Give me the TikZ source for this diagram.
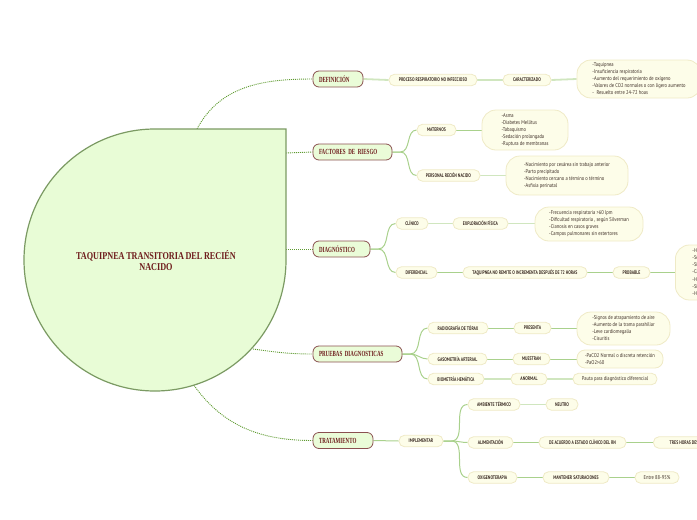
\documentclass[tikz,border=0pt]{standalone}
\usepackage{fontspec}
\usetikzlibrary{backgrounds}
\newfontfamily\subf[FakeStretch=0.74]{PT Sans}
\newfontfamily\listf[FakeStretch=0.83]{PT Sans}
\newfontfamily\headf[FakeStretch=0.64,WordSpace=0.6]{Liberation Serif}
\newfontfamily\rootf[FakeStretch=0.78,WordSpace=0.8]{Liberation Serif}
\definecolor{rootfill}{HTML}{E8FCD6}
\definecolor{rootdraw}{HTML}{7B9A63}
\definecolor{headtext}{HTML}{6E1C1C}
\definecolor{headdraw}{HTML}{8A5050}
\definecolor{headfill}{HTML}{EAFCD8}
\definecolor{subfill}{HTML}{FDFDE9}
\definecolor{subdraw}{HTML}{EFEAC6}
\definecolor{subtext}{HTML}{3E2F27}
\definecolor{linkc}{HTML}{A9D18C}
\definecolor{linkpale}{HTML}{D0E6BF}
\definecolor{dotc}{HTML}{5E9A30}
\begin{document}
\begin{tikzpicture}[x=1pt,y=1pt,
 headbox/.style={draw=headdraw, fill=headfill, line width=0.8pt, rounded corners=6pt, inner ysep=0pt, inner xsep=6pt, minimum height=16pt, align=left, text=headtext, font=\headf\bfseries\fontsize{7.8}{8}\selectfont},
 subbox/.style={draw=subdraw, fill=subfill, line width=0.8pt, rounded corners=5.5pt, inner sep=0pt, minimum height=11.5pt, text=subtext, font=\subf\bfseries\fontsize{5.2}{5.5}\selectfont},
 listbox/.style={draw=subdraw, fill=subfill, line width=0.8pt, rounded corners=14pt, inner sep=0pt, align=left, text=subtext, font=\listf\fontsize{5.5}{7}\selectfont},
 link/.style={draw=linkc, line width=1pt},
 linkw/.style={draw=linkpale, line width=1.8pt},
 dotlink/.style={draw=dotc, line width=0.9pt, dash pattern=on 1pt off 1pt},
]
\useasboundingbox (0,0) rectangle (697,-520);
\clip (0,0) rectangle (697,-520);

% central shape
\draw[fill=rootfill, draw=rootdraw, line width=1.2pt]
  (155,-129) -- (286,-129) -- (286,-260) arc[start angle=0, end angle=-270, radius=131] -- cycle;
\node[font=\rootf\bfseries\fontsize{10.5}{11}\selectfont, text=headtext, align=center] (root) at (156,-261) {TAQUIPNEA TRANSITORIA DEL RECIÉN\\NACIDO};
\coordinate (r1) at (197,-129);
\coordinate (r2) at (286,-153);
\coordinate (r3) at (286,-249);
\coordinate (r4) at (253,-349);
\coordinate (r5) at (193,-384);

% main nodes
\node[headbox, text width=38pt] (def) at (338,-79) {DEFINICIÓN};
\node[headbox, text width=67pt] (fac) at (352.5,-152) {FACTORES DE RIESGO};
\node[headbox, text width=45pt] (diag) at (341.5,-249) {DIAGNÓSTICO};
\node[headbox, text width=77pt] (prue) at (357.5,-354) {PRUEBAS DIAGNOSTICAS};
\node[headbox, text width=48pt] (trat) at (343,-440.5) {TRATAMIENTO};

% definicion
\node[subbox, minimum width=88pt] (proc) at (433,-80) {PROCESO RESPIRATORIO NO INFECCIOSO};
\node[subbox, minimum width=48pt] (car) at (527,-80) {CARACTERIZADO};
\node[listbox, minimum width=124pt, minimum height=38pt] (defbox) at (639,-79) {-Taquipnea\\-Insuficiencia respiratoria\\-Aumento del requerimiento de oxígeno\\-Valores de CO2 normales o con ligero aumento\\- \ Resuelto entre 24-72 hoas};

% factores
\node[subbox, minimum width=39pt] (mat) at (436.5,-130) {MATERNOS};
\node[listbox, minimum width=86pt, minimum height=40pt] (matbox) at (525,-130) {-Asma\\-Diabetes Mellitus\\-Tabaquismo\\-Sedación prolongada\\-Ruptura de membranas};
\node[subbox, minimum width=63pt] (pers) at (448.5,-175.5) {PERSONAL RECIÉN NACIDO};
\node[listbox, minimum width=122pt, minimum height=39pt] (persbox) at (567,-175.5) {-Nacimiento por cesárea sin trabajo anterior\\-Parto precipitado\\-Nacimiento cercano a término o término\\-Asfixia perinatal};

% diagnostico
\node[subbox, minimum width=32pt] (cli) at (412,-223.5) {CLÍNICO};
\node[subbox, minimum width=55pt] (expl) at (480.5,-223.5) {EXPLORACIÓN FÍSICA};
\node[listbox, minimum width=108pt, minimum height=34pt] (clibox) at (589,-224) {-Frecuencia respiratoria >60 lpm\\-Dificultad respiratoria , según Silverman\\-Cianosis en casos graves\\-Campos pulmonares sin estertores};
\node[subbox, minimum width=41pt] (dif) at (416.5,-272.5) {DIFERENCIAL};
\node[subbox, minimum width=124pt] (taq) at (525,-272.5) {TAQUIPNEA NO REMITE O INCREMENTA DESPUÉS DE 72 HORAS};
\node[subbox, minimum width=37pt] (prob) at (631.5,-272.5) {PROBABLE};
\node[listbox, anchor=west, inner xsep=17pt, text width=100pt, minimum height=55pt, font=\listf\fontsize{5.5}{7.3}\selectfont] (probbox) at (675,-272.5) {-Hernia diafragmática\\-Sepsis\\-Síndrome de aspiración de meconio\\-Cardiopatía congénita\\-Hipertensión pulmonar persistente\\-Síndrome de dificultad respiratoria\\-Hemorragia pulmonar};

% pruebas
\node[subbox, minimum width=60pt] (rad) at (458,-328) {RADIOGRAFÍA DE TÓRAX};
\node[subbox, minimum width=37pt] (pres) at (532.5,-328) {PRESENTA};
\node[listbox, minimum width=93pt, minimum height=33pt] (radbox) at (623.5,-328.5) {-Signos de atrapamiento de aire\\-Aumento de la trama parahiliar\\-Leve cardiomegalia\\-Cisuritis};
\node[subbox, minimum width=59pt] (gas) at (457.5,-359) {GASOMETRÍA ARTERIAL};
\node[subbox, minimum width=37pt] (mues) at (531.5,-359) {MUESTRAN};
\node[listbox, rounded corners=8pt, minimum width=86pt, minimum height=18pt] (gasbox) at (620,-359) {-PaCO2 Normal o discreta retención\\-PaO2>60};
\node[subbox, minimum width=56pt] (bio) at (456,-379) {BIOMETRÍA HEMÁTICA};
\node[subbox, minimum width=36pt] (anor) at (529,-379) {ANORMAL};
\node[subbox, minimum width=84pt, font=\listf\fontsize{5.5}{6}\selectfont] (pauta) at (615,-379) {Pauta para diagnóstico diferencial};

% tratamiento
\node[subbox, minimum width=44pt] (impl) at (421,-441) {IMPLEMENTAR};
\node[subbox, minimum width=52pt] (amb) at (494,-404.5) {AMBIENTE TÉRMICO};
\node[subbox, minimum width=32pt] (neu) at (562,-404.5) {NEUTRO};
\node[subbox, minimum width=45pt] (ali) at (490.5,-442.5) {ALIMENTACIÓN};
\node[subbox, minimum width=87pt] (deac) at (582.5,-442.5) {DE ACUERDO A ESTADO CLÍNICO DEL RN};
\node[subbox, anchor=west, minimum width=70pt] (tres) at (653,-442.5) {TRES HORAS DESPUÉS};
\node[subbox, minimum width=49pt] (oxi) at (492.5,-477.5) {OXIGENOTERAPIA};
\node[subbox, minimum width=66pt] (mant) at (576,-477.5) {MANTENER SATURACIONES};
\node[subbox, minimum width=44pt, font=\listf\fontsize{5.5}{6}\selectfont] (entre) at (657,-477.5) {Entre 88-95\%};

\begin{scope}[on background layer]
% dotted from root
\draw[dotlink] (r1) to[out=62,in=180] (def.west);
\draw[dotlink] (r2) -- (fac.west);
\draw[dotlink] (r3) -- (diag.west);
\draw[dotlink] (r4) to[out=-8,in=180] (prue.west);
\draw[dotlink] (r5) to[out=-55,in=180] (trat.west);
% definicion
\draw[linkw] (def.east) -- (proc.west);
\draw[linkw] (proc.east) -- (car.west);
\draw[linkw] (car.east) -- (defbox.west);
% factores
\draw[link] (fac.east) -- ++(8,0) to[out=0,in=180] (mat.west);
\draw[link] (fac.east) -- ++(8,0) to[out=0,in=180] (pers.west);
\draw[link] (mat.east) -- (mat.east -| matbox.west);
\draw[linkw] (pers.east) -- (pers.east -| persbox.west);
% diagnostico
\draw[link] (diag.east) -- ++(8,0) to[out=0,in=180] (cli.west);
\draw[link] (diag.east) -- ++(8,0) to[out=0,in=180] (dif.west);
\draw[linkw] (cli.east) -- (expl.west);
\draw[linkw] (expl.east) -- (expl.east -| clibox.west);
\draw[link] (dif.east) -- (taq.west);
\draw[link] (taq.east) -- (prob.west);
\draw[link] (prob.east) -- (probbox.west);
% pruebas
\draw[link] (prue.east) -- ++(8,0) to[out=0,in=180] (rad.west);
\draw[link] (prue.east) -- ++(8,0) to[out=0,in=180] (gas.west);
\draw[link] (prue.east) -- ++(8,0) to[out=0,in=180] (bio.west);
\draw[link] (rad.east) -- (pres.west);
\draw[link] (pres.east) -- (pres.east -| radbox.west);
\draw[link] (gas.east) -- (mues.west);
\draw[link] (mues.east) -- (mues.east -| gasbox.west);
\draw[linkw] (bio.east) -- (anor.west);
\draw[linkw] (anor.east) -- (pauta.west);
% tratamiento
\draw[link] (trat.east) -- (impl.west);
\draw[link] (impl.east) -- ++(8,0) to[out=0,in=180] (amb.west);
\draw[link] (impl.east) -- ++(8,0) to[out=0,in=180] (ali.west);
\draw[link] (impl.east) -- ++(8,0) to[out=0,in=180] (oxi.west);
\draw[linkw] (amb.east) -- (neu.west);
\draw[link] (ali.east) -- (deac.west);
\draw[link] (deac.east) -- (tres.west);
\draw[link] (oxi.east) -- (mant.west);
\draw[link] (mant.east) -- (entre.west);
\end{scope}
\end{tikzpicture}
\end{document}
